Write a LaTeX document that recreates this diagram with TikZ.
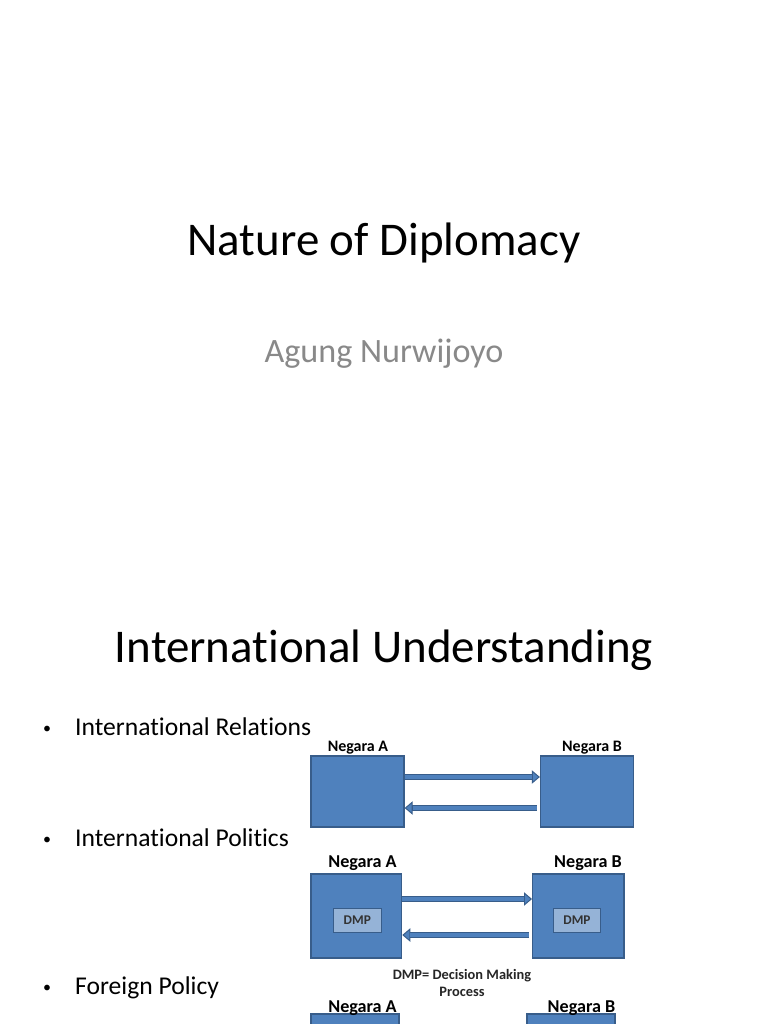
\documentclass[tikz,border=0pt]{standalone}
\usepackage{fontspec}
\setmainfont{Carlito}[Ligatures=NoCommon]
\usetikzlibrary{arrows.meta}

\definecolor{boxblue}{HTML}{4F81BD}
\definecolor{boxedge}{HTML}{385D8A}
\definecolor{dmpblue}{HTML}{95B3D7}
\definecolor{subgray}{HTML}{898989}

\tikzset{
  txt/.style={inner sep=0pt, anchor=base},
  item/.style={inner sep=0pt, anchor=base west, font=\fontsize{24}{28}\selectfont},
  dot/.style={inner sep=0pt, font=\fontsize{15}{18}\selectfont},
  negara/.style={draw=boxedge, fill=boxblue, line width=1.2pt, inner sep=0pt},
  dmpbox/.style={draw=boxedge, fill=dmpblue, line width=0.9pt, inner sep=0pt,
    text=black!80, font=\fontsize{12.5}{14}\selectfont\bfseries},
  flow/.style={draw=boxedge, line width=6.5pt,
    -{Triangle[width=12.5pt,length=7.5pt,fill=boxblue,line width=0.9pt]},
    postaction={draw=boxblue, line width=4.5pt, -, shorten >=7.5pt}},
}

\begin{document}
\begin{tikzpicture}[x=0.9375pt, y=-0.9375pt]
  \useasboundingbox[fill=white] (0,0) rectangle (768,1024);

  % first slide
  \node[txt, font=\fontsize{44}{52}\selectfont] (title) at (384,255) {Nature of Diplomacy};
  \node[txt, font=\fontsize{32}{38}\selectfont, text=subgray] (author) at (384,362) {Agung Nurwijoyo};

  % second slide
  \node[txt, font=\fontsize{44}{52}\selectfont] (heading) at (384,662) {International Understanding};

  \node[dot] (dot1) at (47,730) {\textbullet};
  \node[item] (ir) at (75,735) {International Relations};
  \node[dot] (dot2) at (47,841) {\textbullet};
  \node[item] (ip) at (75,846) {International Politics};
  \node[dot] (dot3) at (47,989) {\textbullet};
  \node[item] (fp) at (75,994) {Foreign Policy};

  % relations
  \node[negara, minimum width=87.2pt, minimum height=66.6pt] (A1) at (357.5,791.5) {};
  \node[negara, minimum width=87.2pt, minimum height=66.6pt] (B1) at (587,791.5) {};
  \node[txt, font=\fontsize{15}{17}\selectfont\bfseries] (la1) at (358,751) {Negara A};
  \node[txt, font=\fontsize{15}{17}\selectfont\bfseries] (lb1) at (592,751) {Negara B};
  \draw[flow] (A1.east |- 0,777) -- (B1.west |- 0,777);
  \draw[flow, shorten <=3pt] (B1.west |- 0,808) -- (A1.east |- 0,808);

  % politics
  \node[negara, minimum width=85pt, minimum height=78.8pt] (A2) at (356.3,916) {};
  \node[negara, minimum width=85.6pt, minimum height=78.8pt] (B2) at (578.3,916) {};
  \node[dmpbox, minimum width=45.6pt, minimum height=22.5pt] (dmpA) at (357.3,920) {DMP};
  \node[dmpbox, minimum width=44.7pt, minimum height=22.5pt] (dmpB) at (577,920) {DMP};
  \node[txt, font=\fontsize{17}{20}\selectfont\bfseries] (la2) at (362.5,867) {Negara A};
  \node[txt, font=\fontsize{17}{20}\selectfont\bfseries] (lb2) at (588,867) {Negara B};
  \draw[flow] (A2.east |- 0,899) -- (B2.west |- 0,899);
  \draw[flow, shorten <=3pt] (B2.west |- 0,935) -- (A2.east |- 0,935);
  \node[txt, font=\fontsize{13.5}{16}\selectfont\bfseries, text=black!85] (legend1) at (462,979.3) {DMP= Decision Making};
  \node[txt, font=\fontsize{13.5}{16}\selectfont\bfseries, text=black!85] (legend2) at (462,996.7) {Process};

  % foreign policy
  \node[negara, minimum width=82.5pt, minimum height=78.8pt] (A3) at (355,1056) {};
  \node[negara, minimum width=82.5pt, minimum height=78.8pt] (B3) at (571,1056) {};
  \node[txt, font=\fontsize{17}{20}\selectfont\bfseries] (la3) at (362.5,1012.5) {Negara A};
  \node[txt, font=\fontsize{17}{20}\selectfont\bfseries] (lb3) at (581.5,1012.5) {Negara B};
\end{tikzpicture}
\end{document}
